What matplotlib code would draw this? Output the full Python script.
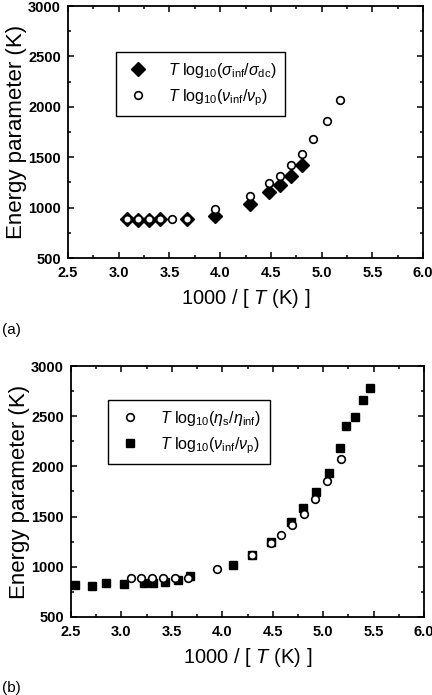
import matplotlib
matplotlib.use("Agg")
import matplotlib.pyplot as plt
from matplotlib.ticker import MultipleLocator

plt.rcParams['font.family'] = ['Liberation Sans', 'DejaVu Sans']
plt.rcParams['mathtext.fontset'] = 'custom'
plt.rcParams['mathtext.rm'] = 'Liberation Sans'
plt.rcParams['mathtext.it'] = 'Liberation Sans:italic'
plt.rcParams['mathtext.bf'] = 'Liberation Sans:bold'

# panel (a)
a_sigma_x = [3.08, 3.19, 3.30, 3.41, 3.67, 3.95, 4.29, 4.48, 4.59, 4.70, 4.81]
a_sigma_y = [886, 880, 873, 886, 886, 919, 1038, 1157, 1227, 1309, 1425]
a_nu_x = [3.08, 3.19, 3.30, 3.41, 3.53, 3.67, 3.95, 4.29, 4.48, 4.59, 4.70, 4.81, 4.92, 5.05, 5.18]
a_nu_y = [886, 886, 886, 886, 886, 886, 985, 1118, 1240, 1316, 1421, 1530, 1682, 1861, 2072]

# panel (b)
b_eta_x = [3.09, 3.19, 3.30, 3.41, 3.53, 3.66, 3.95, 4.29, 4.48, 4.58, 4.69, 4.81, 4.92, 5.04, 5.18]
b_eta_y = [886, 889, 889, 886, 886, 886, 982, 1118, 1240, 1319, 1419, 1526, 1678, 1858, 2071]
b_nu_x = [2.54, 2.71, 2.85, 3.03, 3.22, 3.31, 3.43, 3.56, 3.68, 4.11, 4.29, 4.48,
          4.68, 4.80, 4.93, 5.06, 5.17, 5.23, 5.32, 5.40, 5.46]
b_nu_y = [822, 809, 836, 826, 842, 842, 849, 872, 909, 1015, 1118, 1243,
          1449, 1583, 1748, 1931, 2186, 2405, 2495, 2661, 2777]

lbl_sigma = r'$\mathit{T}$ log$_{10}$($\sigma_{\rm inf}$/$\sigma_{\rm dc}$)'
lbl_nu = r'$\mathit{T}$ log$_{10}$($\nu_{\rm inf}$/$\nu_{\rm p}$)'
lbl_eta = r'$\mathit{T}$ log$_{10}$($\eta_{\rm s}$/$\eta_{\rm inf}$)'
xlabel = r'1000 / [ $\mathit{T}$ (K) ]'
ylabel = 'Energy parameter (K)'

W, H = 432, 695
fig = plt.figure(figsize=(W / 100, H / 100), dpi=100)


def style_axes(ax):
    ax.set_xlim(2.5, 6.0)
    ax.set_ylim(500, 3000)
    ax.xaxis.set_major_locator(MultipleLocator(0.5))
    ax.xaxis.set_minor_locator(MultipleLocator(0.25))
    ax.yaxis.set_major_locator(MultipleLocator(500))
    ax.yaxis.set_minor_locator(MultipleLocator(250))
    ax.set_xticks([2.5, 3.0, 3.5, 4.0, 4.5, 5.0, 5.5, 6.0])
    ax.set_xticklabels(['2.5', '3.0', '3.5', '4.0', '4.5', '5.0', '5.5', '6.0'])
    ax.tick_params(which='both', direction='in', top=True, right=True, width=1.1)
    ax.tick_params(which='major', length=4.5, labelsize=10.5)
    ax.tick_params(axis='x', which='major', pad=6)
    ax.tick_params(axis='y', which='major', pad=5)
    ax.tick_params(which='minor', length=2.5)
    for lab in ax.get_xticklabels() + ax.get_yticklabels():
        lab.set_fontweight('bold')
    for s in ax.spines.values():
        s.set_linewidth(1.3)
    ax.set_xlabel(xlabel, fontsize=14.5, labelpad=5)
    ax.set_ylabel(ylabel, fontsize=16, labelpad=1)


def add_legend(ax, handles, labels, x0, y0):
    leg = ax.legend(handles, labels, loc='upper left', bbox_to_anchor=(x0, y0),
                    borderaxespad=0, fontsize=11.5, frameon=True, fancybox=False,
                    edgecolor='black', framealpha=1, handletextpad=1.1,
                    borderpad=0.55, labelspacing=0.45, handlelength=1.6)
    leg.get_frame().set_linewidth(1.0)


# (a)
ax1 = fig.add_axes([68 / W, 1 - 258 / H, (423 - 68) / W, (258 - 6) / H])
h1, = ax1.plot(a_sigma_x, a_sigma_y, 'D', color='black', markersize=7, zorder=3)
h2, = ax1.plot(a_nu_x, a_nu_y, 'o', markerfacecolor='white', markeredgecolor='black',
               markeredgewidth=1.2, markersize=5.5, zorder=4)
style_axes(ax1)
add_legend(ax1, [h1, h2], [lbl_sigma, lbl_nu], (116 - 68) / 355, (258 - 52) / 252)
fig.text(2 / W, 1 - 330 / H, '(a)', fontsize=11, va='center', ha='left')

# (b)
ax2 = fig.add_axes([71 / W, 1 - 617 / H, (424 - 71) / W, (617 - 366) / H])
h3, = ax2.plot(b_nu_x, b_nu_y, 's', color='black', markersize=6, zorder=3)
h4, = ax2.plot(b_eta_x, b_eta_y, 'o', markerfacecolor='white', markeredgecolor='black',
               markeredgewidth=1.2, markersize=5.5, zorder=4)
style_axes(ax2)
add_legend(ax2, [h4, h3], [lbl_eta, lbl_nu], (108 - 71) / 353, (617 - 400) / 251)
fig.text(2 / W, 1 - 688 / H, '(b)', fontsize=11, va='center', ha='left')

fig.savefig('out.png', dpi=100)
